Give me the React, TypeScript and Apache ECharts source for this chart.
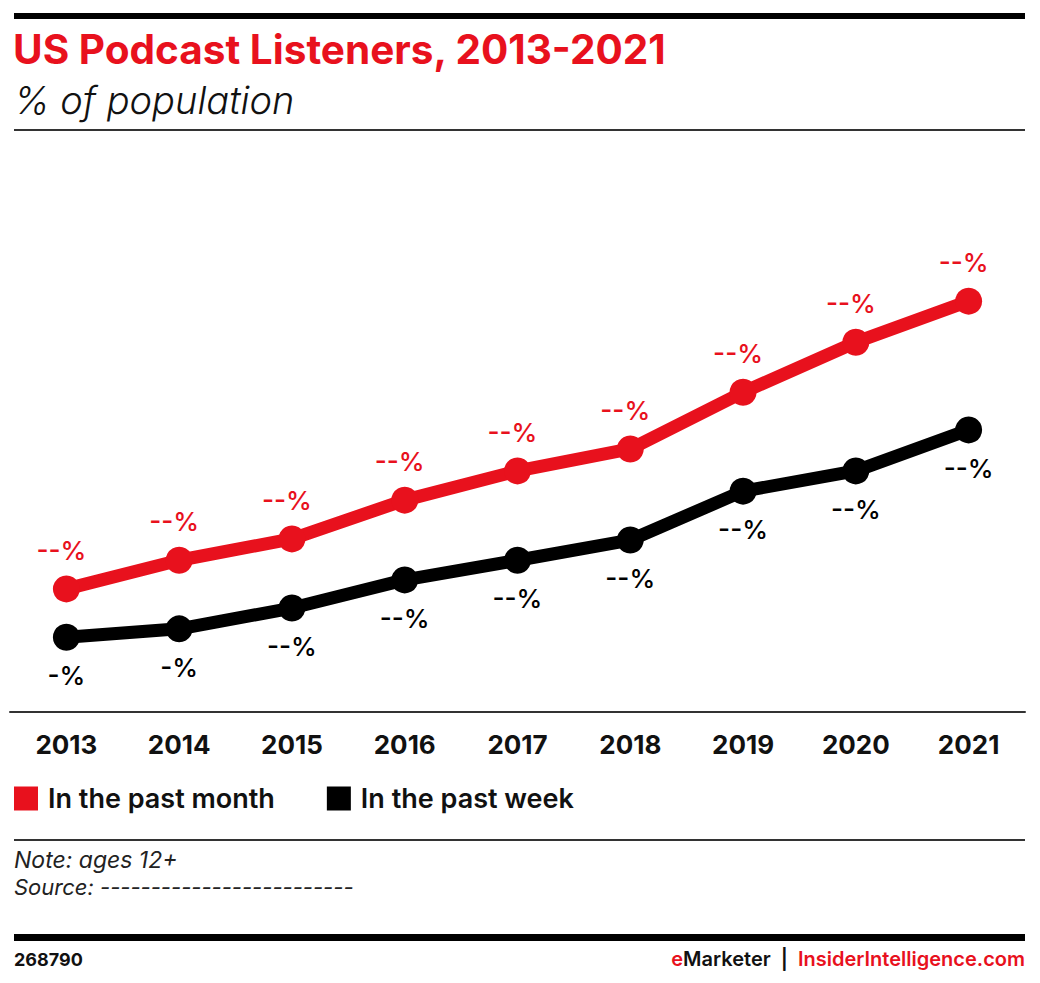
import React, { useEffect, useRef } from "react";
import * as echarts from "echarts";

const years = ["2013", "2014", "2015", "2016", "2017", "2018", "2019", "2020", "2021"];
const pastMonth = [21.9, 27.0, 30.8, 37.7, 42.9, 46.8, 56.9, 65.8, 73.1];
const pastWeek = [13.3, 14.8, 18.5, 23.5, 27.0, 30.6, 39.3, 42.9, 50.2];
const pastMonthLabels = ["--%", "--%", "--%", "--%", "--%", "--%", "--%", "--%", "--%"];
const pastWeekLabels = ["-%", "-%", "--%", "--%", "--%", "--%", "--%", "--%", "--%"];

const RED = "#e8111d";
const BLACK = "#000000";
const FONT = "Inter, 'Noto Sans', sans-serif";

export default function App() {
  const ref = useRef<HTMLDivElement>(null);
  useEffect(() => {
    document.body.style.margin = "0";
    const chart = echarts.init(ref.current!, null, { renderer: "svg" });
    chart.setOption({
      animation: false,
      backgroundColor: "#ffffff",
      textStyle: { fontFamily: FONT },
      grid: { left: 10, right: 15, top: 150, bottom: 271, containLabel: false },
      legend: {
        left: 14,
        top: 785,
        padding: 0,
        itemWidth: 24,
        itemHeight: 24,
        itemGap: 52,
        icon: "rect",
        textStyle: { fontSize: 27, fontWeight: 600, color: "#111", padding: [0, 0, 0, 5], fontFamily: FONT },
        data: ["In the past month", "In the past week"],
      },
      xAxis: {
        type: "category",
        data: years,
        boundaryGap: true,
        axisLine: { lineStyle: { color: "#333", width: 2 } },
        axisTick: { alignWithLabel: true, length: 10, lineStyle: { color: "#333", width: 2 } },
        axisLabel: { fontSize: 26, fontWeight: "bold", color: "#111", margin: 19, fontFamily: FONT },
      },
      yAxis: { type: "value", min: 0, max: 100, show: false, splitLine: { show: false } },
      series: [
        {
          name: "In the past month",
          type: "line",
          data: pastMonth,
          color: RED,
          symbol: "circle",
          symbolSize: 27,
          lineStyle: { width: 13, color: RED },
          itemStyle: { color: RED },
          label: {
            show: true,
            position: "top",
            distance: 12,
            offset: [-5, 0],
            fontSize: 26,
            fontWeight: 500,
            color: RED,
            fontFamily: FONT,
            formatter: (p: any) => pastMonthLabels[p.dataIndex],
          },
        },
        {
          name: "In the past week",
          type: "line",
          data: pastWeek,
          color: BLACK,
          symbol: "circle",
          symbolSize: 27,
          lineStyle: { width: 13, color: BLACK },
          itemStyle: { color: BLACK },
          label: {
            show: true,
            position: "bottom",
            distance: 12,
            fontSize: 26,
            fontWeight: 500,
            color: BLACK,
            fontFamily: FONT,
            formatter: (p: any) => pastWeekLabels[p.dataIndex],
          },
        },
      ],
      graphic: [
        { type: "rect", shape: { x: 14, y: 13, width: 1011, height: 6 }, style: { fill: "#000" } },
        {
          type: "text",
          x: 13,
          y: 49,
          style: { text: "US Podcast Listeners, 2013-2021", font: `bold 40.5px ${FONT}`, fill: RED, textVerticalAlign: "middle" },
        },
        {
          type: "text",
          x: 14,
          y: 100,
          style: { text: "% of population", font: `italic 300 38px ${FONT}`, fill: "#111", textVerticalAlign: "middle" },
        },
        { type: "rect", shape: { x: 14, y: 129, width: 1011, height: 2 }, style: { fill: "#333" } },
        { type: "rect", shape: { x: 14, y: 839, width: 1011, height: 2 }, style: { fill: "#333" } },
        {
          type: "text",
          x: 14,
          y: 860,
          style: { text: "Note: ages 12+", font: `italic 23px ${FONT}`, fill: "#222", textVerticalAlign: "middle" },
        },
        {
          type: "text",
          x: 14,
          y: 887,
          style: { text: "Source: -------------------------", font: `italic 22px ${FONT}`, fill: "#222", textVerticalAlign: "middle" },
        },
        { type: "rect", shape: { x: 14, y: 934, width: 1011, height: 7 }, style: { fill: "#000" } },
        {
          type: "text",
          x: 14,
          y: 959,
          style: { text: "268790", font: `bold 18px ${FONT}`, fill: "#111", textVerticalAlign: "middle" },
        },
        {
          type: "text",
          x: 1025,
          y: 959,
          style: {
            text: "{r|e}{b|Marketer}{b|  |  }{r|InsiderIntelligence.com}",
            textAlign: "right",
            textVerticalAlign: "middle",
            rich: {
              r: { font: `600 20px ${FONT}`, fill: RED, color: RED },
              b: { font: `600 20px ${FONT}`, fill: "#111", color: "#111" },
            },
          },
        },
      ],
    });
    return () => chart.dispose();
  }, []);
  return <div ref={ref} style={{ width: 1040, height: 983, position: "absolute", left: 0, top: 0 }} />;
}
